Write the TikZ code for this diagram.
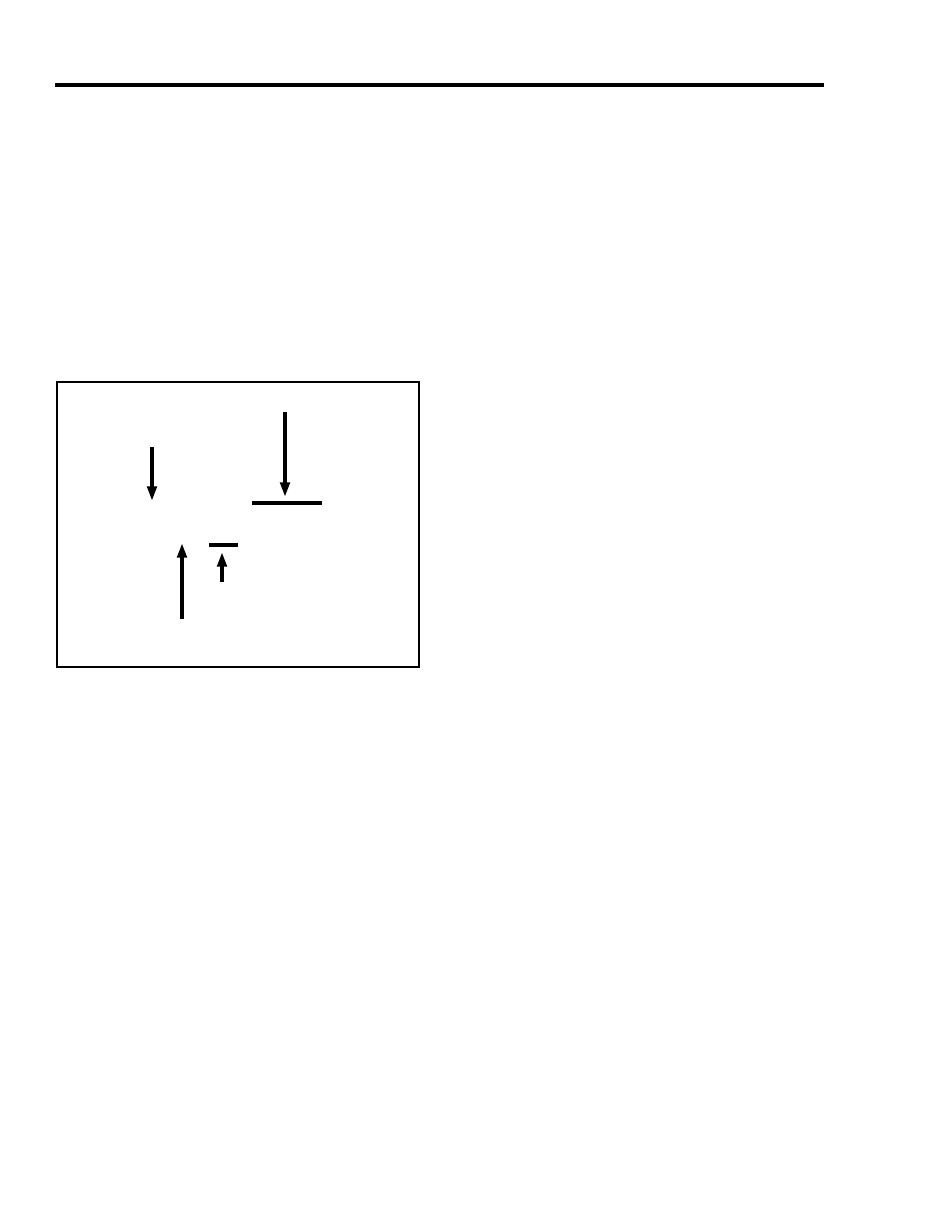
\documentclass[tikz,border=0pt]{standalone}
\usepackage{tikz}
\usetikzlibrary{arrows.meta}

\begin{document}
\begin{tikzpicture}[
    x=0.75pt, y=-0.75pt,
    frame/.style={draw, line width=1.3pt},
    rule/.style={line width=3pt},
    bar/.style={line width=3.4pt},
    arrow/.style={-{Triangle[length=11pt,width=7pt]}, line width=3pt}
]
    \useasboundingbox[fill=white] (0,0) rectangle (935,1210);
    \draw[rule] (55,85) -- (824,85);
    \draw[frame] (57,382) rectangle (419,667);

    % arrows
    \coordinate (aTop) at (152,447);
    \coordinate (aTip) at (152,501);
    \coordinate (bTop) at (285,412);
    \coordinate (bTip) at (285,497);
    \coordinate (cBot) at (182,619);
    \coordinate (cTip) at (182,543);
    \coordinate (dBot) at (222,582);
    \coordinate (dTip) at (222,552);

    % bars
    \coordinate (barL) at (252,503);
    \coordinate (barR) at (322,503);
    \coordinate (capL) at (209,545);
    \coordinate (capR) at (238,545);

    \draw[arrow] (aTop) -- (aTip);
    \draw[arrow] (bTop) -- (bTip);
    \draw[arrow] (cBot) -- (cTip);
    \draw[arrow] (dBot) -- (dTip);
    \draw[bar] (barL) -- (barR);
    \draw[bar] (capL) -- (capR);
\end{tikzpicture}
\end{document}
